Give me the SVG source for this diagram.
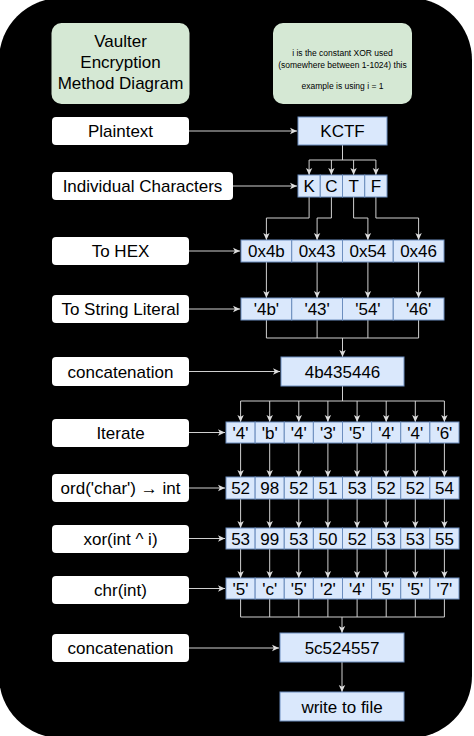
<svg xmlns="http://www.w3.org/2000/svg" width="474" height="736" viewBox="0 0 474 736">
<defs>
<marker id="arr" markerWidth="8" markerHeight="8" refX="7" refY="4" orient="auto" markerUnits="userSpaceOnUse"><path d="M0,0.8 L7,4 L0,7.2 L1.8,4 z" fill="#ddd"/></marker>
</defs>
<style>
text{font-family:"Liberation Sans",Arial,Helvetica,sans-serif;fill:#000;text-anchor:middle}
.t{font-size:17px}
.n{font-size:8.5px}
.lbl{fill:#fff;stroke:none}
.g{fill:#d5e8d4;stroke:none}
.c{fill:#dae8fc;stroke:#6c8ebf;stroke-width:1}
.e{fill:none;stroke:#d0d0d0;stroke-width:1}
.a{marker-end:url(#arr)}
</style>
<rect x="0" y="0" width="474" height="736" fill="#fff"/>
<rect x="-1" y="-2" width="473" height="740" rx="62" fill="#000"/>

<g id="title"><rect class="g" x="51.5" y="23" width="138" height="81" rx="10"/><text class="t" x="120.5" y="47">Vaulter</text><text class="t" x="120.5" y="68">Encryption</text><text class="t" x="120.5" y="89">Method Diagram</text></g>
<g id="note"><rect class="g" x="273" y="23" width="139" height="81" rx="10"/><text class="n" x="342.5" y="56">i is the constant XOR used</text><text class="n" x="342.5" y="68">(somewhere between 1-1024) this</text><text class="n" x="342.5" y="89">example is using i = 1</text></g>

<g id="connectors">
<path class="e a" d="M189,131 H297"/>
<path class="e" d="M342.5,145 V160 M309.1,160 H375.9"/>
<path class="e a" d="M309.1,160 V175"/><path class="e a" d="M331.4,160 V175"/><path class="e a" d="M353.6,160 V175"/><path class="e a" d="M375.9,160 V175"/>
<path class="e a" d="M233,186 H297"/>
<path class="e a" d="M309.1,197 V218 H266.4 V240"/>
<path class="e a" d="M331.4,197 V218 H317.1 V240"/>
<path class="e a" d="M353.6,197 V218 H367.9 V240"/>
<path class="e a" d="M375.9,197 V218 H418.6 V240"/>
<path class="e a" d="M189,251 H240"/>
<path class="e a" d="M266.4,262 V298"/><path class="e a" d="M317.1,262 V298"/><path class="e a" d="M367.9,262 V298"/><path class="e a" d="M418.6,262 V298"/>
<path class="e a" d="M189,309 H240"/>
<path class="e" d="M266.4,320 V338 M317.1,320 V338 M367.9,320 V338 M418.6,320 V338 M266.4,338 H418.6"/>
<path class="e a" d="M342.5,338 V357"/>
<path class="e a" d="M189,371.5 H280"/>
<path class="e" d="M342.5,386 V401 M240.6,401 H444.4"/>
<path class="e a" d="M240.6,401 V422"/><path class="e a" d="M269.7,401 V422"/><path class="e a" d="M298.8,401 V422"/><path class="e a" d="M327.9,401 V422"/><path class="e a" d="M357.1,401 V422"/><path class="e a" d="M386.2,401 V422"/><path class="e a" d="M415.3,401 V422"/><path class="e a" d="M444.4,401 V422"/>
<path class="e a" d="M189,432.5 H225"/>
<path class="e a" d="M240.6,443 V477"/><path class="e a" d="M269.7,443 V477"/><path class="e a" d="M298.8,443 V477"/><path class="e a" d="M327.9,443 V477"/><path class="e a" d="M357.1,443 V477"/><path class="e a" d="M386.2,443 V477"/><path class="e a" d="M415.3,443 V477"/><path class="e a" d="M444.4,443 V477"/>
<path class="e a" d="M189,488 H225"/>
<path class="e a" d="M240.6,499 V528"/><path class="e a" d="M269.7,499 V528"/><path class="e a" d="M298.8,499 V528"/><path class="e a" d="M327.9,499 V528"/><path class="e a" d="M357.1,499 V528"/><path class="e a" d="M386.2,499 V528"/><path class="e a" d="M415.3,499 V528"/><path class="e a" d="M444.4,499 V528"/>
<path class="e a" d="M189,538.5 H225"/>
<path class="e a" d="M240.6,549 V578"/><path class="e a" d="M269.7,549 V578"/><path class="e a" d="M298.8,549 V578"/><path class="e a" d="M327.9,549 V578"/><path class="e a" d="M357.1,549 V578"/><path class="e a" d="M386.2,549 V578"/><path class="e a" d="M415.3,549 V578"/><path class="e a" d="M444.4,549 V578"/>
<path class="e a" d="M189,588.5 H225"/>
<path class="e" d="M240.6,599 V617 M269.7,599 V617 M298.8,599 V617 M327.9,599 V617 M357.1,599 V617 M386.2,599 V617 M415.3,599 V617 M444.4,599 V617 M240.6,617 H444.4"/>
<path class="e a" d="M342,617 V633"/>
<path class="e a" d="M189,648 H279"/>
<path class="e a" d="M342,662 V692"/>
</g>

<g id="lbl-plaintext"><rect class="lbl" x="52" y="117" width="137" height="28" rx="4"/><text class="t" x="120.5" y="137">Plaintext</text></g>
<g id="lbl-chars"><rect class="lbl" x="52" y="172" width="181" height="28" rx="4"/><text class="t" x="142.5" y="192">Individual Characters</text></g>
<g id="lbl-hex"><rect class="lbl" x="52" y="237" width="137" height="28" rx="4"/><text class="t" x="120.5" y="257">To HEX</text></g>
<g id="lbl-strlit"><rect class="lbl" x="52" y="295" width="137" height="28" rx="4"/><text class="t" x="120.5" y="315">To String Literal</text></g>
<g id="lbl-concat1"><rect class="lbl" x="52" y="357" width="137" height="29" rx="4"/><text class="t" x="120.5" y="377.5">concatenation</text></g>
<g id="lbl-iterate"><rect class="lbl" x="52" y="419" width="137" height="28" rx="4"/><text class="t" x="120.5" y="439">Iterate</text></g>
<g id="lbl-ord"><rect class="lbl" x="52" y="474" width="137" height="28" rx="4"/><text class="t" x="120.5" y="494">ord('char') → int</text></g>
<g id="lbl-xor"><rect class="lbl" x="52" y="525" width="137" height="28" rx="4"/><text class="t" x="120.5" y="545">xor(int ^ i)</text></g>
<g id="lbl-chr"><rect class="lbl" x="52" y="576" width="137" height="28" rx="4"/><text class="t" x="120.5" y="596">chr(int)</text></g>
<g id="lbl-concat2"><rect class="lbl" x="52" y="634" width="137" height="28" rx="4"/><text class="t" x="120.5" y="654">concatenation</text></g>

<g id="kctf"><rect class="c" x="298" y="117" width="89" height="28"/><text class="t" x="342.5" y="137">KCTF</text></g>
<g id="chars">
<rect class="c" x="298" y="175" width="22.25" height="22"/><rect class="c" x="320.25" y="175" width="22.25" height="22"/><rect class="c" x="342.5" y="175" width="22.25" height="22"/><rect class="c" x="364.75" y="175" width="22.25" height="22"/>
<text class="t" x="309.1" y="192">K</text><text class="t" x="331.4" y="192">C</text><text class="t" x="353.6" y="192">T</text><text class="t" x="375.9" y="192">F</text>
</g>
<g id="hex">
<rect class="c" x="241" y="240" width="50.75" height="22"/><rect class="c" x="291.75" y="240" width="50.75" height="22"/><rect class="c" x="342.5" y="240" width="50.75" height="22"/><rect class="c" x="393.25" y="240" width="50.75" height="22"/>
<text class="t" x="266.4" y="257">0x4b</text><text class="t" x="317.1" y="257">0x43</text><text class="t" x="367.9" y="257">0x54</text><text class="t" x="418.6" y="257">0x46</text>
</g>
<g id="strlit">
<rect class="c" x="241" y="298" width="50.75" height="22"/><rect class="c" x="291.75" y="298" width="50.75" height="22"/><rect class="c" x="342.5" y="298" width="50.75" height="22"/><rect class="c" x="393.25" y="298" width="50.75" height="22"/>
<text class="t" x="266.4" y="315">'4b'</text><text class="t" x="317.1" y="315">'43'</text><text class="t" x="367.9" y="315">'54'</text><text class="t" x="418.6" y="315">'46'</text>
</g>
<g id="concat1"><rect class="c" x="281" y="357" width="123" height="29"/><text class="t" x="342.5" y="377.5">4b435446</text></g>

<g id="iterate">
<rect class="c" x="226" y="422" width="29.125" height="21"/><rect class="c" x="255.125" y="422" width="29.125" height="21"/><rect class="c" x="284.25" y="422" width="29.125" height="21"/><rect class="c" x="313.375" y="422" width="29.125" height="21"/><rect class="c" x="342.5" y="422" width="29.125" height="21"/><rect class="c" x="371.625" y="422" width="29.125" height="21"/><rect class="c" x="400.75" y="422" width="29.125" height="21"/><rect class="c" x="429.875" y="422" width="29.125" height="21"/>
<text class="t" x="240.6" y="438.5">'4'</text><text class="t" x="269.7" y="438.5">'b'</text><text class="t" x="298.8" y="438.5">'4'</text><text class="t" x="327.9" y="438.5">'3'</text><text class="t" x="357.1" y="438.5">'5'</text><text class="t" x="386.2" y="438.5">'4'</text><text class="t" x="415.3" y="438.5">'4'</text><text class="t" x="444.4" y="438.5">'6'</text>
</g>
<g id="ord">
<rect class="c" x="226" y="477" width="29.125" height="22"/><rect class="c" x="255.125" y="477" width="29.125" height="22"/><rect class="c" x="284.25" y="477" width="29.125" height="22"/><rect class="c" x="313.375" y="477" width="29.125" height="22"/><rect class="c" x="342.5" y="477" width="29.125" height="22"/><rect class="c" x="371.625" y="477" width="29.125" height="22"/><rect class="c" x="400.75" y="477" width="29.125" height="22"/><rect class="c" x="429.875" y="477" width="29.125" height="22"/>
<text class="t" x="240.6" y="494">52</text><text class="t" x="269.7" y="494">98</text><text class="t" x="298.8" y="494">52</text><text class="t" x="327.9" y="494">51</text><text class="t" x="357.1" y="494">53</text><text class="t" x="386.2" y="494">52</text><text class="t" x="415.3" y="494">52</text><text class="t" x="444.4" y="494">54</text>
</g>
<g id="xor">
<rect class="c" x="226" y="528" width="29.125" height="21"/><rect class="c" x="255.125" y="528" width="29.125" height="21"/><rect class="c" x="284.25" y="528" width="29.125" height="21"/><rect class="c" x="313.375" y="528" width="29.125" height="21"/><rect class="c" x="342.5" y="528" width="29.125" height="21"/><rect class="c" x="371.625" y="528" width="29.125" height="21"/><rect class="c" x="400.75" y="528" width="29.125" height="21"/><rect class="c" x="429.875" y="528" width="29.125" height="21"/>
<text class="t" x="240.6" y="544.5">53</text><text class="t" x="269.7" y="544.5">99</text><text class="t" x="298.8" y="544.5">53</text><text class="t" x="327.9" y="544.5">50</text><text class="t" x="357.1" y="544.5">52</text><text class="t" x="386.2" y="544.5">53</text><text class="t" x="415.3" y="544.5">53</text><text class="t" x="444.4" y="544.5">55</text>
</g>
<g id="chr">
<rect class="c" x="226" y="578" width="29.125" height="21"/><rect class="c" x="255.125" y="578" width="29.125" height="21"/><rect class="c" x="284.25" y="578" width="29.125" height="21"/><rect class="c" x="313.375" y="578" width="29.125" height="21"/><rect class="c" x="342.5" y="578" width="29.125" height="21"/><rect class="c" x="371.625" y="578" width="29.125" height="21"/><rect class="c" x="400.75" y="578" width="29.125" height="21"/><rect class="c" x="429.875" y="578" width="29.125" height="21"/>
<text class="t" x="240.6" y="594.5">'5'</text><text class="t" x="269.7" y="594.5">'c'</text><text class="t" x="298.8" y="594.5">'5'</text><text class="t" x="327.9" y="594.5">'2'</text><text class="t" x="357.1" y="594.5">'4'</text><text class="t" x="386.2" y="594.5">'5'</text><text class="t" x="415.3" y="594.5">'5'</text><text class="t" x="444.4" y="594.5">'7'</text>
</g>
<g id="concat2"><rect class="c" x="280" y="633" width="124" height="29"/><text class="t" x="342" y="653.5">5c524557</text></g>
<g id="write"><rect class="c" x="280" y="692" width="124" height="29"/><text class="t" x="342" y="712.5">write to file</text></g>
</svg>
